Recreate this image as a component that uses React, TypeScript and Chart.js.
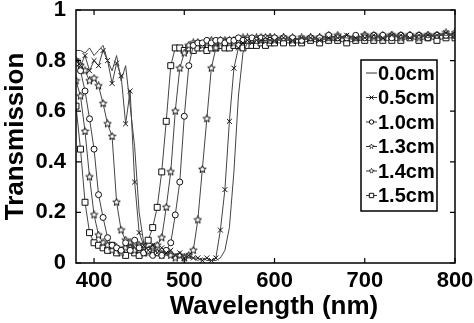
import React, { useEffect, useRef } from 'react';
import { Chart, registerables } from 'chart.js';
Chart.register(...registerables);

const wavelengths = [
  380, 385, 390, 395, 400, 405, 410, 415, 420, 425, 430, 435, 440, 445, 450, 455, 460, 465, 470, 475,
  480, 485, 490, 495, 500, 505, 510, 515, 520, 525, 530, 535, 540, 545, 550, 555, 560, 565, 570, 575,
  580, 585, 590, 595, 600, 610, 620, 630, 640, 650, 660, 670, 680, 690, 700, 710, 720, 730, 740, 750,
  760, 770, 780, 790, 800,
];

const t00 = [
  0.84, 0.84, 0.83, 0.85, 0.82, 0.84, 0.86, 0.80, 0.76, 0.82, 0.72, 0.78, 0.62,
  0.46, 0.20, 0.08, 0.05, 0.06, 0.04, 0.05, 0.03, 0.04, 0.03,
  0.02, 0.03, 0.02, 0.02, 0.01, 0.02, 0.01, 0.01, 0.01, 0.02,
  0.05, 0.14, 0.36, 0.66, 0.83, 0.87, 0.87, 0.88, 0.87, 0.88, 0.88, 0.88,
  0.88, 0.88, 0.89, 0.88, 0.89, 0.88, 0.89, 0.89, 0.88, 0.89,
  0.89, 0.89, 0.90, 0.89, 0.89, 0.90, 0.89, 0.90, 0.90, 0.90,
];
const t05 = [
  0.80, 0.78, 0.82, 0.76, 0.80, 0.78, 0.84, 0.80, 0.71, 0.79, 0.74, 0.55, 0.68,
  0.32, 0.12, 0.07, 0.05, 0.07, 0.04, 0.06, 0.04, 0.05, 0.03,
  0.04, 0.02, 0.03, 0.02, 0.02, 0.01, 0.02, 0.01, 0.02, 0.13,
  0.29, 0.56, 0.77, 0.85, 0.87, 0.88, 0.87, 0.88, 0.88, 0.89, 0.88, 0.88,
  0.89, 0.88, 0.89, 0.89, 0.88, 0.89, 0.89, 0.90, 0.89, 0.89,
  0.90, 0.89, 0.90, 0.90, 0.89, 0.90, 0.90, 0.90, 0.91, 0.90,
];
const t10 = [
  0.79, 0.76, 0.68, 0.57, 0.45, 0.27, 0.18, 0.10, 0.07, 0.06, 0.05, 0.08, 0.05,
  0.09, 0.06, 0.04, 0.05, 0.03, 0.04, 0.03, 0.05, 0.08, 0.19,
  0.32, 0.58, 0.78, 0.86, 0.87, 0.87, 0.88, 0.87, 0.88, 0.88,
  0.87, 0.88, 0.88, 0.89, 0.88, 0.88, 0.89, 0.88, 0.89, 0.89, 0.88, 0.89,
  0.89, 0.89, 0.88, 0.89, 0.89, 0.90, 0.89, 0.89, 0.90, 0.89,
  0.90, 0.90, 0.89, 0.90, 0.90, 0.90, 0.89, 0.90, 0.90, 0.90,
];
const t13 = [
  0.80, 0.78, 0.76, 0.72, 0.73, 0.70, 0.63, 0.55, 0.50, 0.24, 0.13, 0.09, 0.06,
  0.08, 0.05, 0.07, 0.04, 0.06, 0.04, 0.03, 0.04, 0.03, 0.02,
  0.03, 0.02, 0.03, 0.05, 0.17, 0.37, 0.57, 0.77, 0.85, 0.87,
  0.87, 0.88, 0.87, 0.88, 0.88, 0.89, 0.88, 0.88, 0.89, 0.88, 0.89, 0.89,
  0.89, 0.88, 0.89, 0.89, 0.89, 0.90, 0.89, 0.89, 0.89, 0.90,
  0.90, 0.89, 0.90, 0.90, 0.90, 0.89, 0.90, 0.90, 0.91, 0.90,
];
const t14 = [
  0.72, 0.66, 0.52, 0.34, 0.19, 0.11, 0.08, 0.07, 0.05, 0.06, 0.04, 0.06, 0.08,
  0.05, 0.07, 0.04, 0.05, 0.06, 0.07, 0.10, 0.22, 0.36, 0.60,
  0.77, 0.83, 0.86, 0.87, 0.87, 0.86, 0.87, 0.88, 0.87, 0.88,
  0.88, 0.87, 0.88, 0.88, 0.89, 0.88, 0.88, 0.89, 0.88, 0.89, 0.89, 0.88,
  0.89, 0.89, 0.88, 0.89, 0.89, 0.89, 0.90, 0.89, 0.89, 0.90,
  0.89, 0.90, 0.90, 0.89, 0.90, 0.90, 0.90, 0.90, 0.90, 0.91,
];
const t15 = [
  0.62, 0.45, 0.24, 0.12, 0.08, 0.07, 0.06, 0.05, 0.07, 0.04, 0.05, 0.03, 0.06,
  0.04, 0.03, 0.05, 0.09, 0.14, 0.22, 0.36, 0.56, 0.78, 0.85,
  0.85, 0.84, 0.85, 0.84, 0.85, 0.85, 0.84, 0.85, 0.85, 0.86,
  0.85, 0.85, 0.86, 0.86, 0.85, 0.86, 0.86, 0.86, 0.87, 0.86, 0.87, 0.87,
  0.87, 0.87, 0.87, 0.88, 0.87, 0.88, 0.88, 0.87, 0.88, 0.88,
  0.88, 0.88, 0.88, 0.88, 0.89, 0.88, 0.89, 0.88, 0.89, 0.89,
];

const seriesLabels = ['0.0cm', '0.5cm', '1.0cm', '1.3cm', '1.4cm', '1.5cm'];
const seriesValues = [t00, t05, t10, t13, t14, t15];
const xTicks = [400, 500, 600, 700, 800];
const yTicks = [0, 0.2, 0.4, 0.6, 0.8, 1];
const xTitle = 'Wavelength (nm)';
const yTitle = 'Transmission';

const FONT = '"Liberation Sans", Arial, Helvetica, sans-serif';

function makeStar(size: number): HTMLCanvasElement {
  const c = document.createElement('canvas');
  c.width = size;
  c.height = size;
  const ctx = c.getContext('2d')!;
  const cx = size / 2;
  const cy = size / 2;
  const ro = size / 2 - 0.6;
  const ri = ro * 0.45;
  ctx.beginPath();
  for (let i = 0; i < 10; i++) {
    const r = i % 2 === 0 ? ro : ri;
    const a = -Math.PI / 2 + (i * Math.PI) / 5;
    const px = cx + r * Math.cos(a);
    const py = cy + r * Math.sin(a);
    if (i === 0) ctx.moveTo(px, py);
    else ctx.lineTo(px, py);
  }
  ctx.closePath();
  ctx.fillStyle = '#fff';
  ctx.fill();
  ctx.strokeStyle = '#111';
  ctx.lineWidth = 1;
  ctx.stroke();
  return c;
}

function drawLegendMarker(ctx: CanvasRenderingContext2D, style: any, x: number, y: number) {
  ctx.save();
  ctx.strokeStyle = '#111';
  ctx.fillStyle = '#fff';
  ctx.lineWidth = 1;
  if (style && typeof style === 'object') {
    ctx.drawImage(style, x - 3, y - 3, 6, 6);
  } else if (style === 'circle') {
    ctx.beginPath();
    ctx.arc(x, y, 2.2, 0, Math.PI * 2);
    ctx.fill();
    ctx.stroke();
  } else if (style === 'rect') {
    ctx.beginPath();
    ctx.rect(x - 2.2, y - 2.2, 4.4, 4.4);
    ctx.fill();
    ctx.stroke();
  } else if (style === 'crossRot') {
    ctx.beginPath();
    ctx.moveTo(x - 2, y - 2);
    ctx.lineTo(x + 2, y + 2);
    ctx.moveTo(x + 2, y - 2);
    ctx.lineTo(x - 2, y + 2);
    ctx.stroke();
  }
  ctx.restore();
}

const framePlugin = {
  id: 'frame',
  afterDatasetsDraw(chart: any) {
    const { ctx, chartArea } = chart;
    const { left, right, top, bottom } = chartArea;
    const xs = chart.scales.x;
    const ys = chart.scales.y;
    ctx.save();
    ctx.strokeStyle = '#000';
    ctx.lineWidth = 1.5;
    ctx.strokeRect(left, top, right - left, bottom - top);
    ctx.lineWidth = 1.2;
    ctx.beginPath();
    const tl = 5;
    xTicks.forEach((v) => {
      const px = xs.getPixelForValue(v);
      ctx.moveTo(px, bottom);
      ctx.lineTo(px, bottom - tl);
      ctx.moveTo(px, top);
      ctx.lineTo(px, top + tl);
    });
    yTicks.forEach((v) => {
      const py = ys.getPixelForValue(v);
      ctx.moveTo(left, py);
      ctx.lineTo(left + tl, py);
      ctx.moveTo(right, py);
      ctx.lineTo(right - tl, py);
    });
    ctx.stroke();

    // x axis title
    ctx.fillStyle = '#000';
    ctx.font = 'bold 26px ' + FONT;
    ctx.textAlign = 'center';
    ctx.textBaseline = 'middle';
    ctx.fillText(xTitle, 274, 307);

    // legend box
    const bx = 361;
    const by = 60;
    const bw = 76;
    const bh = 151;
    ctx.fillStyle = '#fff';
    ctx.fillRect(bx, by, bw, bh);
    ctx.lineWidth = 1.5;
    ctx.strokeStyle = '#000';
    ctx.strokeRect(bx, by, bw, bh);
    ctx.font = 'bold 20px ' + FONT;
    ctx.textBaseline = 'middle';
    ctx.textAlign = 'left';
    chart.data.datasets.forEach((ds: any, i: number) => {
      const cy = by + 13 + i * 24.5;
      ctx.strokeStyle = '#333';
      ctx.lineWidth = 1;
      ctx.beginPath();
      ctx.moveTo(bx + 5, cy);
      ctx.lineTo(bx + 16, cy);
      ctx.stroke();
      if (ds.pointRadius > 0) drawLegendMarker(ctx, ds.pointStyle, bx + 10.5, cy);
      ctx.fillStyle = '#000';
      ctx.fillText(ds.label, bx + 17, cy + 1);
    });
    ctx.restore();
  },
};

export default function App() {
  const ref = useRef<HTMLCanvasElement | null>(null);
  useEffect(() => {
    if (!ref.current) return;
    const star = makeStar(9);
    const styles: any[] = ['circle', 'crossRot', 'circle', star, star, 'rect'];
    const radii = [0, 3.5, 3, 4, 4, 4.2];
    const datasets = seriesValues.map((vals, i) => ({
      label: seriesLabels[i],
      data: wavelengths.map((w, j) => ({ x: w, y: vals[j] })),
      borderColor: '#444',
      borderWidth: 1,
      pointStyle: styles[i],
      pointRadius: radii[i],
      pointBorderColor: '#111',
      pointBackgroundColor: '#fff',
      pointBorderWidth: 1,
      tension: 0,
      fill: false,
    }));
    const chart = new Chart(ref.current, {
      type: 'line',
      data: { datasets },
      options: {
        animation: false,
        responsive: false,
        maintainAspectRatio: false,
        layout: { padding: { top: 10, right: 19, left: 0, bottom: 0 } },
        plugins: { legend: { display: false }, tooltip: { enabled: false } },
        scales: {
          x: {
            type: 'linear',
            min: 380,
            max: 800,
            grid: { display: false, drawTicks: false },
            border: { display: false },
            afterBuildTicks: (s: any) => {
              s.ticks = xTicks.map((v) => ({ value: v }));
            },
            afterFit: (s: any) => {
              s.height = 60;
              s.paddingLeft = 0;
              s.paddingRight = 0;
            },
            ticks: {
              autoSkip: false,
              maxRotation: 0,
              padding: 5,
              color: '#000',
              font: { family: FONT, size: 22, weight: 'bold' },
            },
            title: { display: false, text: xTitle },
          },
          y: {
            type: 'linear',
            min: 0,
            max: 1,
            grid: { display: false, drawTicks: false },
            border: { display: false },
            afterBuildTicks: (s: any) => {
              s.ticks = yTicks.map((v) => ({ value: v }));
            },
            afterFit: (s: any) => {
              s.width = 76;
              s.paddingTop = 0;
              s.paddingBottom = 0;
            },
            ticks: {
              padding: 10,
              color: '#000',
              font: { family: FONT, size: 22, weight: 'bold' },
              callback: (v: any) => String(v),
            },
            title: {
              display: true,
              text: yTitle,
              color: '#000',
              font: { family: FONT, size: 26, weight: 'bold' },
              padding: { top: 0, bottom: 0 },
            },
          },
        },
      },
      plugins: [framePlugin],
    } as any);
    return () => chart.destroy();
  }, []);
  return (
    <div style={{ position: 'fixed', left: 0, top: 0, width: 474, height: 323, background: '#fff' }}>
      <canvas ref={ref} width={474} height={323} style={{ display: 'block' }} />
    </div>
  );
}
